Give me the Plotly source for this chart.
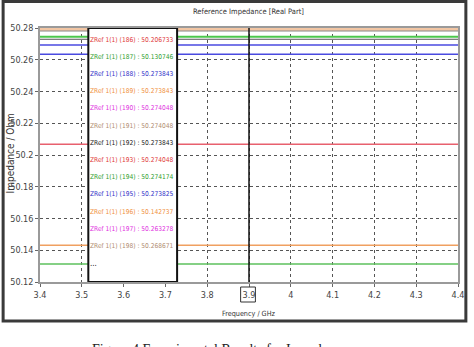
import plotly.graph_objects as go

# ---- data ----
x_range = [3.4, 4.4]
x_tickvals = [3.4, 3.5, 3.6, 3.7, 3.8, 3.9, 4.0, 4.1, 4.2, 4.3, 4.4]
x_ticktext = ["3.4", "3.5", "3.6", "3.7", "3.8", "3.9", "4", "4.1", "4.2", "4.3", "4.4"]
y_tickvals = [50.12, 50.14, 50.16, 50.18, 50.20, 50.22, 50.24, 50.26, 50.28]
y_ticktext = ["50.12", "50.14", "50.16", "50.18", "50.2", "50.22", "50.24", "50.26", "50.28"]

# flat impedance curves visible in the plot (value, colour, width)
line_values = [50.2791, 50.2781, 50.2745, 50.2729, 50.2693, 50.2634, 50.2067, 50.1431, 50.1313]
line_colors = ["#f2c6a4", "#8a8a8a", "#4cc84c", "#555555", "#4a4ae0", "#4a4ae0", "#e8606e", "#f0a060", "#5cc05c"]
line_widths = [3, 1, 2, 1.2, 1.5, 1.5, 1.5, 1.5, 1.5]

marker_freq = 3.9
box_freqs = [3.5156, 3.728]

entry_ids = [186, 187, 188, 189, 190, 191, 192, 193, 194, 195, 196, 197, 198]
entry_vals = ["50.206733", "50.130746", "50.273843", "50.273843", "50.274048", "50.274048",
              "50.273843", "50.274048", "50.274174", "50.273825", "50.142737", "50.263278", "50.268671"]
entry_colors = ["#e03838", "#2e9e2e", "#3030c8", "#f09040", "#e030e0", "#b08c70",
                "#202020", "#e03838", "#2e9e2e", "#3030c8", "#f09040", "#e030e0", "#b08c70"]

title = "Reference Impedance [Real Part]"
x_title = "Frequency / GHz"
y_title = "Impedance / Ohm"
caption = "Figure 4 Experimental Results for Impedance"

# ---- geometry helpers (pixel -> paper) ----
W, H = 474, 347
L, R, T, B = 39, 10, 28, 65
PW, PH = W - L - R, H - T - B


def px(xp):
    return (xp - L) / PW


def py(yp):
    return (H - B - yp) / PH


FONT = "Liberation Sans Narrow, DejaVu Sans Condensed, Arial Narrow, sans-serif"

fig = go.Figure()
for v, c, w in zip(line_values, line_colors, line_widths):
    fig.add_trace(go.Scatter(x=x_range, y=[v, v], mode="lines",
                             line=dict(color=c, width=w), hoverinfo="skip", showlegend=False))

# value box drawn as a filled trace so it hides the curves and grid behind it
bx0, bx1 = box_freqs
by0, by1 = y_tickvals[0], y_tickvals[-1]
fig.add_trace(go.Scatter(x=[bx0, bx1, bx1, bx0, bx0], y=[by0, by0, by1, by1, by0],
                         mode="lines", fill="toself", fillcolor="white",
                         line=dict(color="#111111", width=2), hoverinfo="skip", showlegend=False,
                         cliponaxis=False))

shapes = []
# marker line
shapes.append(dict(type="line", xref="x", yref="y", x0=marker_freq, x1=marker_freq,
                   y0=y_tickvals[0], y1=y_tickvals[-1], line=dict(color="#111111", width=1.5), layer="above"))
# boxed 3.9 tick label
shapes.append(dict(type="rect", xref="paper", yref="paper", x0=px(243), x1=px(258),
                   y0=py(302), y1=py(287), line=dict(color="#333333", width=1), fillcolor="rgba(0,0,0,0)"))
# outer frame
shapes.append(dict(type="rect", xref="paper", yref="paper", x0=px(1.5), x1=px(472),
                   y0=py(321), y1=py(1.5), line=dict(color="#3a3a3a", width=3), fillcolor="rgba(0,0,0,0)"))

annotations = []
y0 = 39.5
step = 17.2
for i, (eid, ev, ec) in enumerate(zip(entry_ids, entry_vals, entry_colors)):
    annotations.append(dict(xref="paper", yref="paper", x=px(89), y=py(y0 + i * step),
                            xanchor="left", yanchor="middle", showarrow=False, borderpad=0,
                            text=f"ZRef 1(1) ({eid}) : {ev}",
                            font=dict(family=FONT, size=6.6, color=ec)))
annotations.append(dict(xref="paper", yref="paper", x=px(89), y=py(y0 + 13 * step),
                        xanchor="left", yanchor="middle", showarrow=False, text="...", borderpad=0,
                        font=dict(family=FONT, size=8, color="#222222")))
annotations.append(dict(xref="paper", yref="paper", x=px(251), y=py(12), xanchor="center", yanchor="middle",
                        showarrow=False, text=title, font=dict(family=FONT, size=7.5, color="#333333")))
annotations.append(dict(xref="paper", yref="paper", x=px(252), y=py(313), xanchor="center", yanchor="middle",
                        showarrow=False, text=x_title, font=dict(family=FONT, size=7.2, color="#333333")))
annotations.append(dict(xref="paper", yref="paper", x=px(9), y=py(153), xanchor="center", yanchor="middle",
                        showarrow=False, text=y_title, textangle=-90,
                        font=dict(family=FONT, size=10, color="#333333")))
annotations.append(dict(xref="paper", yref="paper", x=px(90), y=py(340), xanchor="left", yanchor="top",
                        showarrow=False, text=caption,
                        font=dict(family="Liberation Serif, DejaVu Serif, serif", size=14, color="#222222")))

fig.update_layout(
    width=W, height=H,
    margin=dict(l=L, r=R, t=T, b=B),
    paper_bgcolor="white", plot_bgcolor="white",
    shapes=shapes, annotations=annotations,
    showlegend=False,
    xaxis=dict(range=x_range, tickvals=x_tickvals, ticktext=x_ticktext,
               showgrid=True, gridcolor="#555555", griddash="dot", gridwidth=1,
               zeroline=False, showline=True, linecolor="#9a9a9a", linewidth=1.5, mirror=True,
               ticks="outside", ticklen=3, tickcolor="#666666",
               tickfont=dict(family=FONT, size=9, color="#444444")),
    yaxis=dict(range=[y_tickvals[0], y_tickvals[-1]], tickvals=y_tickvals, ticktext=y_ticktext,
               showgrid=True, gridcolor="#555555", griddash="dot", gridwidth=1,
               zeroline=False, showline=True, linecolor="#9a9a9a", linewidth=1.5, mirror=True,
               ticks="outside", ticklen=3, tickcolor="#666666",
               tickfont=dict(family=FONT, size=9, color="#444444")),
)

fig.write_html("out.html")
